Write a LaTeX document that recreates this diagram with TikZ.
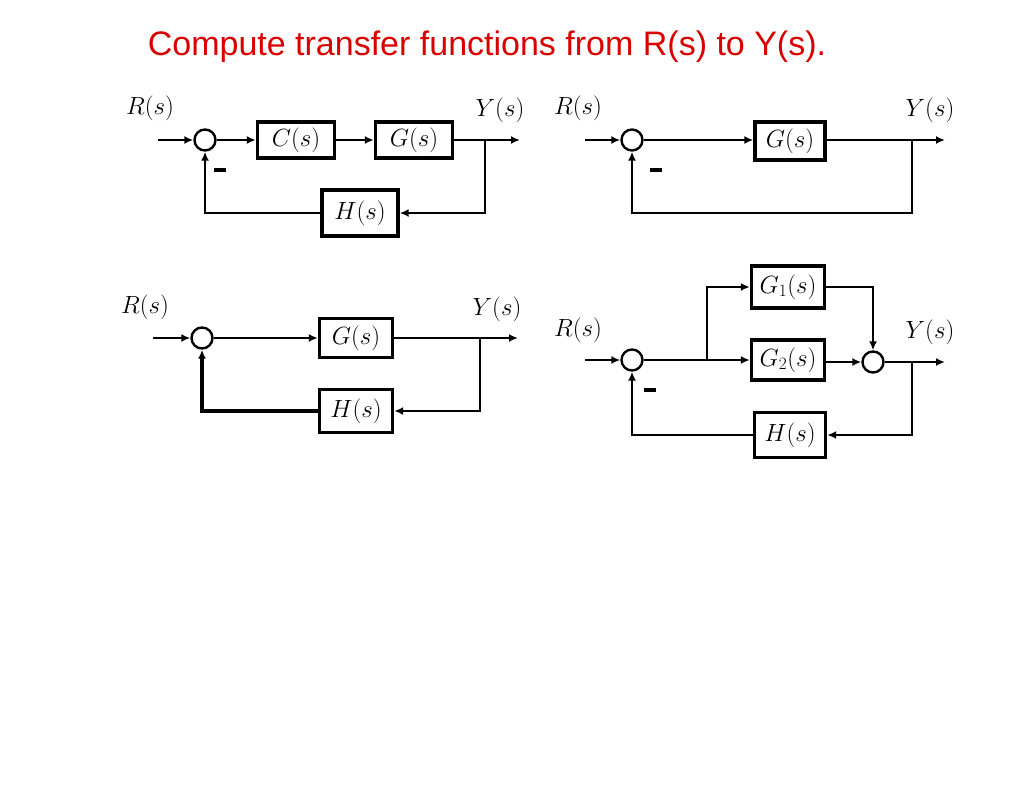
\documentclass[tikz,border=0pt]{standalone}
\usepackage{fontspec}
\newfontfamily\titlefont{Liberation Sans}
\usetikzlibrary{arrows.meta}
\begin{document}
\begin{tikzpicture}[x=1pt,y=-1pt,
  ln/.style={line width=2.8pt},
  arr/.style={ln,-{Latex[length=9pt,width=8pt]}},
  blk/.style={draw,line width=3.4pt,inner sep=0pt,fill=white},
  sj/.style={draw,circle,line width=2.4pt,minimum size=21pt,inner sep=0pt},
  lbl/.style={font=\fontsize{25}{28}\selectfont},
  bl/.style={font=\fontsize{23}{26}\selectfont},
  mn/.style={fill=black,minimum width=12pt,minimum height=4pt,inner sep=0pt}]
\useasboundingbox (0,0) rectangle (1024,791);
\node[text=red!85!black,font=\titlefont\fontsize{34}{38}\selectfont] (t) at (487,47) {Compute transfer functions from R(s) to Y(s).};
% ---- diagram 1
\node[lbl] (r1) at (150,108) {$R(s)$};
\node[lbl] (y1) at (500,110) {$Y(s)$};
\coordinate (i1) at (158,140);
\node[sj] (s1) at (205,140) {};
\node[blk,minimum width=77pt,minimum height=36pt,bl] (c1) at (296,140) {$C(s)$};
\node[blk,minimum width=77pt,minimum height=36pt,bl] (g1) at (414,140) {$G(s)$};
\coordinate (o1) at (520,140);
\coordinate (b1) at (485,140);
\node[blk,minimum width=76pt,minimum height=46pt,bl] (h1) at (360,213) {$H(s)$};
\node[mn] (m1) at (220,170) {};
\draw[arr] (i1) -- (s1);
\draw[arr] (s1) -- (c1);
\draw[arr] (c1) -- (g1);
\draw[arr] (g1) -- (o1);
\draw[arr] (b1) |- (h1);
\draw[arr] (h1) -| (s1);
% ---- diagram 2
\node[lbl] (r2) at (578,108) {$R(s)$};
\node[lbl] (y2) at (930,110) {$Y(s)$};
\coordinate (i2) at (585,140);
\node[sj] (s2) at (632,140) {};
\node[blk,minimum width=70pt,minimum height=38pt,bl] (g2) at (790,141) {$G(s)$};
\coordinate (o2) at (945,140);
\coordinate (b2) at (912,140);
\coordinate (d2) at (912,213);
\node[mn] (m2) at (656,170) {};
\draw[arr] (i2) -- (s2);
\draw[arr] (s2) -- (s2 -| g2.west);
\draw[arr] (g2.east |- b2) -- (o2);
\draw[arr] (b2) -- (d2) -| (s2);
% ---- diagram 3
\node[lbl] (r3) at (145,307) {$R(s)$};
\node[lbl] (y3) at (497,309) {$Y(s)$};
\coordinate (i3) at (153,338);
\node[sj] (s3) at (202,338) {};
\node[blk,minimum width=73pt,minimum height=39pt,bl] (g3) at (356,338) {$G(s)$};
\coordinate (o3) at (518,338);
\coordinate (b3) at (480,338);
\node[blk,minimum width=73pt,minimum height=43pt,bl] (h3) at (356,411) {$H(s)$};
\draw[arr] (i3) -- (s3);
\draw[arr] (s3) -- (g3);
\draw[arr] (g3) -- (o3);
\draw[arr] (b3) |- (h3);
\draw[arr,line width=3.6pt] (h3) -| (s3);
% ---- diagram 4
\node[lbl] (r4) at (578,330) {$R(s)$};
\node[lbl] (y4) at (930,332) {$Y(s)$};
\coordinate (i4) at (585,360);
\node[sj] (s4) at (632,360) {};
\node[blk,minimum width=73pt,minimum height=42pt,bl] (ga) at (788,287) {$G_1(s)$};
\node[blk,minimum width=73pt,minimum height=40pt,bl] (gb) at (788,360) {$G_2(s)$};
\node[sj] (s5) at (873,362) {};
\coordinate (br) at (707,360);
\coordinate (k4) at (873,287);
\coordinate (o4) at (945,362);
\coordinate (b4) at (912,362);
\node[blk,minimum width=71pt,minimum height=45pt,bl] (h4) at (790,435) {$H(s)$};
\node[mn] (m4) at (650,390) {};
\draw[arr] (i4) -- (s4);
\draw[arr] (s4) -- (gb);
\draw[arr] (br) |- (ga);
\draw[arr] (ga.east |- k4) -- (k4) -- (s5);
\draw[arr] (gb.east |- s5) -- (s5);
\draw[arr] (s5) -- (o4);
\draw[arr] (b4) |- (h4);
\draw[arr] (h4) -| (s4);
\end{tikzpicture}
\end{document}
